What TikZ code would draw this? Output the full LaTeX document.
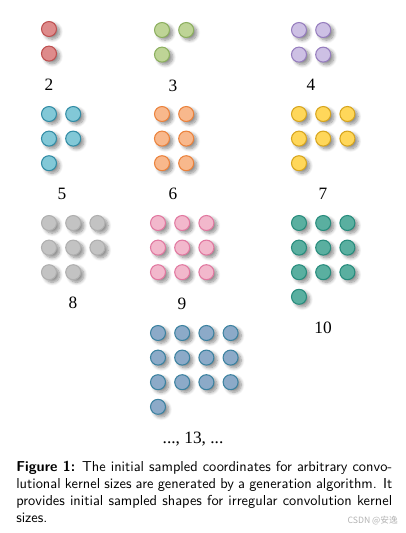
\documentclass[tikz,border=0pt]{standalone}
\usepackage{fontspec}
\setmainfont{Liberation Serif}
\newfontfamily\cjk{Noto Sans CJK SC}
\usepackage{color}
\usetikzlibrary{shadows.blur}

\definecolor{fred}{RGB}{222,139,139}    \definecolor{dred}{RGB}{190,80,80}
\definecolor{fgreen}{RGB}{190,212,150}  \definecolor{dgreen}{RGB}{140,175,95}
\definecolor{fpurple}{RGB}{205,192,228} \definecolor{dpurple}{RGB}{150,125,190}
\definecolor{fcyan}{RGB}{130,200,215}   \definecolor{dcyan}{RGB}{50,140,165}
\definecolor{forange}{RGB}{248,184,140} \definecolor{dorange}{RGB}{235,130,60}
\definecolor{fyellow}{RGB}{255,215,90}  \definecolor{dyellow}{RGB}{215,165,30}
\definecolor{fgray}{RGB}{195,195,195}   \definecolor{dgray}{RGB}{175,175,175}
\definecolor{fpink}{RGB}{242,184,204}   \definecolor{dpink}{RGB}{225,120,160}
\definecolor{fteal}{RGB}{90,175,160}    \definecolor{dteal}{RGB}{40,140,125}
\definecolor{fblue}{RGB}{140,170,200}   \definecolor{dblue}{RGB}{60,130,160}

\begin{document}
\begin{tikzpicture}[x=0.75pt,y=-0.75pt]%
	\tikzstyle{dot}=[circle, line width=0.8pt, minimum size=11.25pt, inner sep=0pt, blur shadow={shadow xshift=2.4pt, shadow yshift=-2pt, shadow blur steps=8, shadow blur radius=2.5pt, shadow opacity=45}];
	\tikzstyle{size}=[anchor=base, font=\fontsize{13}{15}\selectfont];
	\useasboundingbox (0,0) rectangle (406,533);
	\foreach \g/\x/\y/\cols/\num/\col in {b/49/29/1/2/red, c/162/30/2/3/green, d/299/30/2/4/purple, e/49/114/2/5/cyan, f/162/114/2/6/orange, g/299/114/3/7/yellow, h/49/223/3/8/gray, i/158/223/3/9/pink, j/299/223/3/10/teal, m/158/333/4/13/blue} {
		\pgfmathtruncatemacro\last{\num-1}
		\foreach \n in {0,...,\last} {
			\pgfmathtruncatemacro\c{mod(\n,\cols)}
			\pgfmathtruncatemacro\r{div(\n,\cols)}
			\node[dot, fill=f\col, draw=d\col] (\g\n) at (\x+24.2*\c, \y+24.6*\r) {};
		}
	}
	\node[size] (nb) at (49, 90) {2};
	\node[size] (nc) at (173, 91) {3};
	\node[size] (nd) at (311, 90) {4};
	\node[size] (ne) at (62, 199) {5};
	\node[size] (nf) at (173, 199) {6};
	\node[size] (ng) at (323, 199) {7};
	\node[size] (nh) at (73, 308) {8};
	\node[size] (ni) at (182, 309) {9};
	\node[size] (nj) at (323, 333) {10};
	\node[size] (nm) at (193, 443) {..., 13, ...};
	\node[anchor=north west, inner sep=0pt, align=justify, text width=282pt, font=\sffamily\fontsize{10.8}{12.75}\selectfont] (caption) at (16, 461) {\textbf{Figure 1:} The initial sampled coordinates for arbitrary convo-\linebreak lutional kernel sizes are generated by a generation algorithm. It\linebreak provides initial sampled shapes for irregular convolution kernel\linebreak sizes.};
	\node[anchor=east, inner sep=0pt, text=black!30, font=\cjk\fontsize{6.5}{8}\selectfont] (mark) at (398, 521) {CSDN @安逸};
\end{tikzpicture}
\end{document}
